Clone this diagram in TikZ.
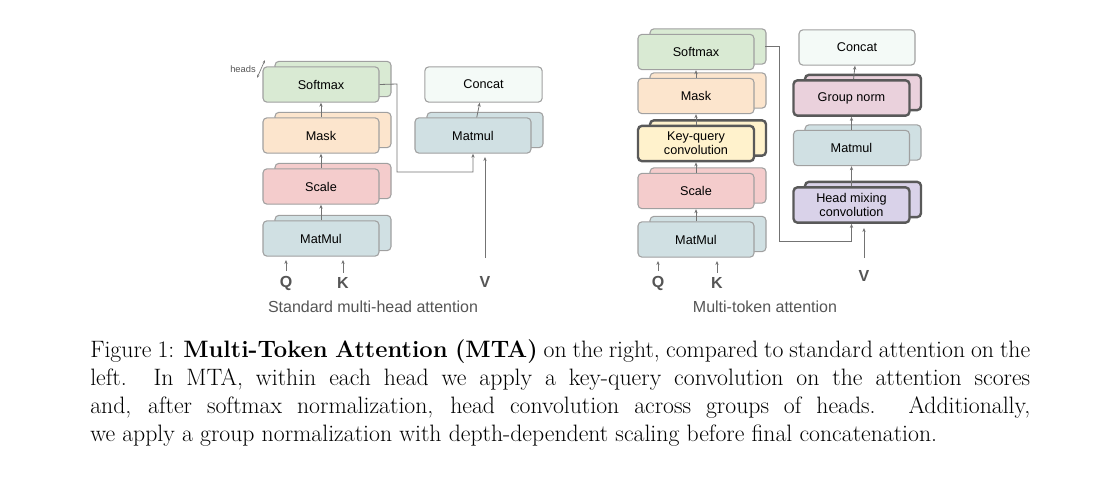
\documentclass[tikz,border=0pt]{standalone}
\usepackage{fontspec}
\setmainfont{Latin Modern Roman}
\newfontfamily\diag{Liberation Sans}
\usetikzlibrary{arrows.meta}
\definecolor{cgreen}{HTML}{D9EAD3}
\definecolor{corange}{HTML}{FCE5CD}
\definecolor{cred}{HTML}{F4CCCC}
\definecolor{cblue}{HTML}{D0E0E3}
\definecolor{cwhite}{HTML}{F4FAF7}
\definecolor{cyellow}{HTML}{FFF2CC}
\definecolor{cpink}{HTML}{EAD1DC}
\definecolor{cpurple}{HTML}{D9D2E9}
\definecolor{edge}{HTML}{777777}
\definecolor{txt}{HTML}{555555}
\tikzset{
 box/.style={draw=edge!70, line width=0.8pt, rounded corners=3pt, minimum width=87pt, minimum height=26.5pt, inner sep=0pt, align=center, font=\diag\fontsize{9.5}{10.5}\selectfont},
 thick box/.style={box, draw=black!65, line width=1.8pt},
 arr/.style={draw=black!55, line width=0.6pt, -{Stealth[length=3pt,width=2.5pt]}},
 lab/.style={font=\diag\bfseries\fontsize{12}{12}\selectfont, text=txt},
 sub/.style={font=\diag\fontsize{12}{12}\selectfont, text=txt},
 captxt/.style={anchor=west, inner sep=0pt, font=\fontsize{17.8}{18}\selectfont},
}
\begin{document}
\begin{tikzpicture}[x=0.75pt,y=-0.75pt]
\useasboundingbox (0,0) rectangle (1111,479);
% ---------- left diagram ----------
\node[box,fill=cgreen] (lsmB) at (333,79) {};
\node[box,fill=cgreen] (lsm) at (321,84.5) {Softmax};
\node[box,fill=corange] (lmaB) at (333,130) {};
\node[box,fill=corange] (lma) at (321,135.5) {Mask};
\node[box,fill=cred] (lscB) at (333,181) {};
\node[box,fill=cred] (lsc) at (321,186.5) {Scale};
\node[box,fill=cblue] (lmmB) at (333,233) {};
\node[box,fill=cblue] (lmm) at (321,238.5) {MatMul};
\node[box,fill=cwhite,minimum width=88pt] (lcc) at (483.5,84.5) {Concat};
\node[box,fill=cblue] (lm2B) at (485,130) {};
\node[box,fill=cblue] (lm2) at (473,135.5) {Matmul};
\draw[arr] (lmm) -- (lsc);
\draw[arr] (lsc) -- (lma);
\draw[arr] (lma) -- (lsm);
\draw[arr] (lm2) -- (lcc);
\coordinate (lc1) at (397,84);
\coordinate (lc2) at (397,172);
\draw[arr] (lsm.east) -- (lc1) -- (lc2) -| (lm2.south);
\node[lab] (lq) at (286,283) {Q};
\node[lab] (lk) at (343,283) {K};
\node[lab] (lv) at (485,282) {V};
\coordinate (lqt) at (286,260);
\coordinate (lkt) at (343,260);
\coordinate (lvt) at (485,157);
\coordinate (lvb) at (485,258);
\draw[arr] (lq.north) -- (lqt);
\draw[arr] (lk.north) -- (lkt);
\draw[arr] (lvb) -- (lvt);
\node[sub] (lcap) at (373,307) {Standard multi-head attention};
\node[font=\diag\fontsize{7}{7}\selectfont, text=txt] (heads) at (243,69) {heads};
\coordinate (h1) at (257,78);
\coordinate (h2) at (265,60);
\draw[draw=black!55, line width=0.5pt, {Stealth[length=2.5pt]}-{Stealth[length=2.5pt]}] (h1) -- (h2);
% ---------- right diagram ----------
\node[box,fill=cgreen] (rsmB) at (708,46.5) {};
\node[box,fill=cgreen] (rsm) at (696,52) {Softmax};
\node[box,fill=corange] (rmaB) at (708,90.5) {};
\node[box,fill=corange] (rma) at (696,96) {Mask};
\node[thick box,fill=cyellow] (rkqB) at (708,138) {};
\node[thick box,fill=cyellow] (rkq) at (696,143.5) {Key-query\\convolution};
\node[box,fill=cred] (rscB) at (708,185.5) {};
\node[box,fill=cred] (rsc) at (696,191) {Scale};
\node[box,fill=cblue] (rmmB) at (708,234) {};
\node[box,fill=cblue] (rmm) at (696,239.5) {MatMul};
\node[box,fill=cwhite] (rcc) at (857,47.5) {Concat};
\node[thick box,fill=cpink] (rgnB) at (863,92.5) {};
\node[thick box,fill=cpink] (rgn) at (851.5,98) {Group norm};
\node[box,fill=cblue] (rm2B) at (863,142.5) {};
\node[box,fill=cblue] (rm2) at (851.5,148) {Matmul};
\node[thick box,fill=cpurple] (rhmB) at (863,199.5) {};
\node[thick box,fill=cpurple] (rhm) at (851.5,205) {Head mixing\\convolution};
\draw[arr] (rmm) -- (rsc);
\draw[arr] (rsc) -- (rkq);
\draw[arr] (rkq) -- (rma);
\draw[arr] (rma) -- (rsm);
\draw[arr] (rhm) -- (rm2);
\draw[arr] (rm2) -- (rgn);
\draw[arr] (rgn) -- (rcc);
\coordinate (rc0) at (765,46);
\coordinate (rc1) at (779,46);
\coordinate (rc2) at (779,241);
\draw[arr] (rc0) -- (rc1) -- (rc2) -| (rhm.south);
\node[lab] (rq) at (658,283) {Q};
\node[lab] (rk) at (717,283) {K};
\node[lab] (rv) at (864,276) {V};
\coordinate (rqt) at (658,261);
\coordinate (rkt) at (717,261);
\coordinate (rvt) at (864,228);
\coordinate (rvb) at (864,258);
\draw[arr] (rq.north) -- (rqt);
\draw[arr] (rk.north) -- (rkt);
\draw[arr] (rvb) -- (rvt);
\node[sub] (rcap) at (765,307) {Multi-token attention};
% ---------- caption ----------
\node[captxt] (c1) at (90,352) {\makebox[705pt][s]{Figure 1: \textbf{Multi-Token Attention (MTA)} on the right, compared to standard attention on the}};
\node[captxt] (c2) at (90,380) {\makebox[705pt][s]{left. In MTA, within each head we apply a key-query convolution on the attention scores}};
\node[captxt] (c3) at (90,408) {\makebox[705pt][s]{and, after softmax normalization, head convolution across groups of heads. Additionally,}};
\node[captxt] (c4) at (90,436) {we apply a group normalization with depth-dependent scaling before final concatenation.};
\end{tikzpicture}
\end{document}
